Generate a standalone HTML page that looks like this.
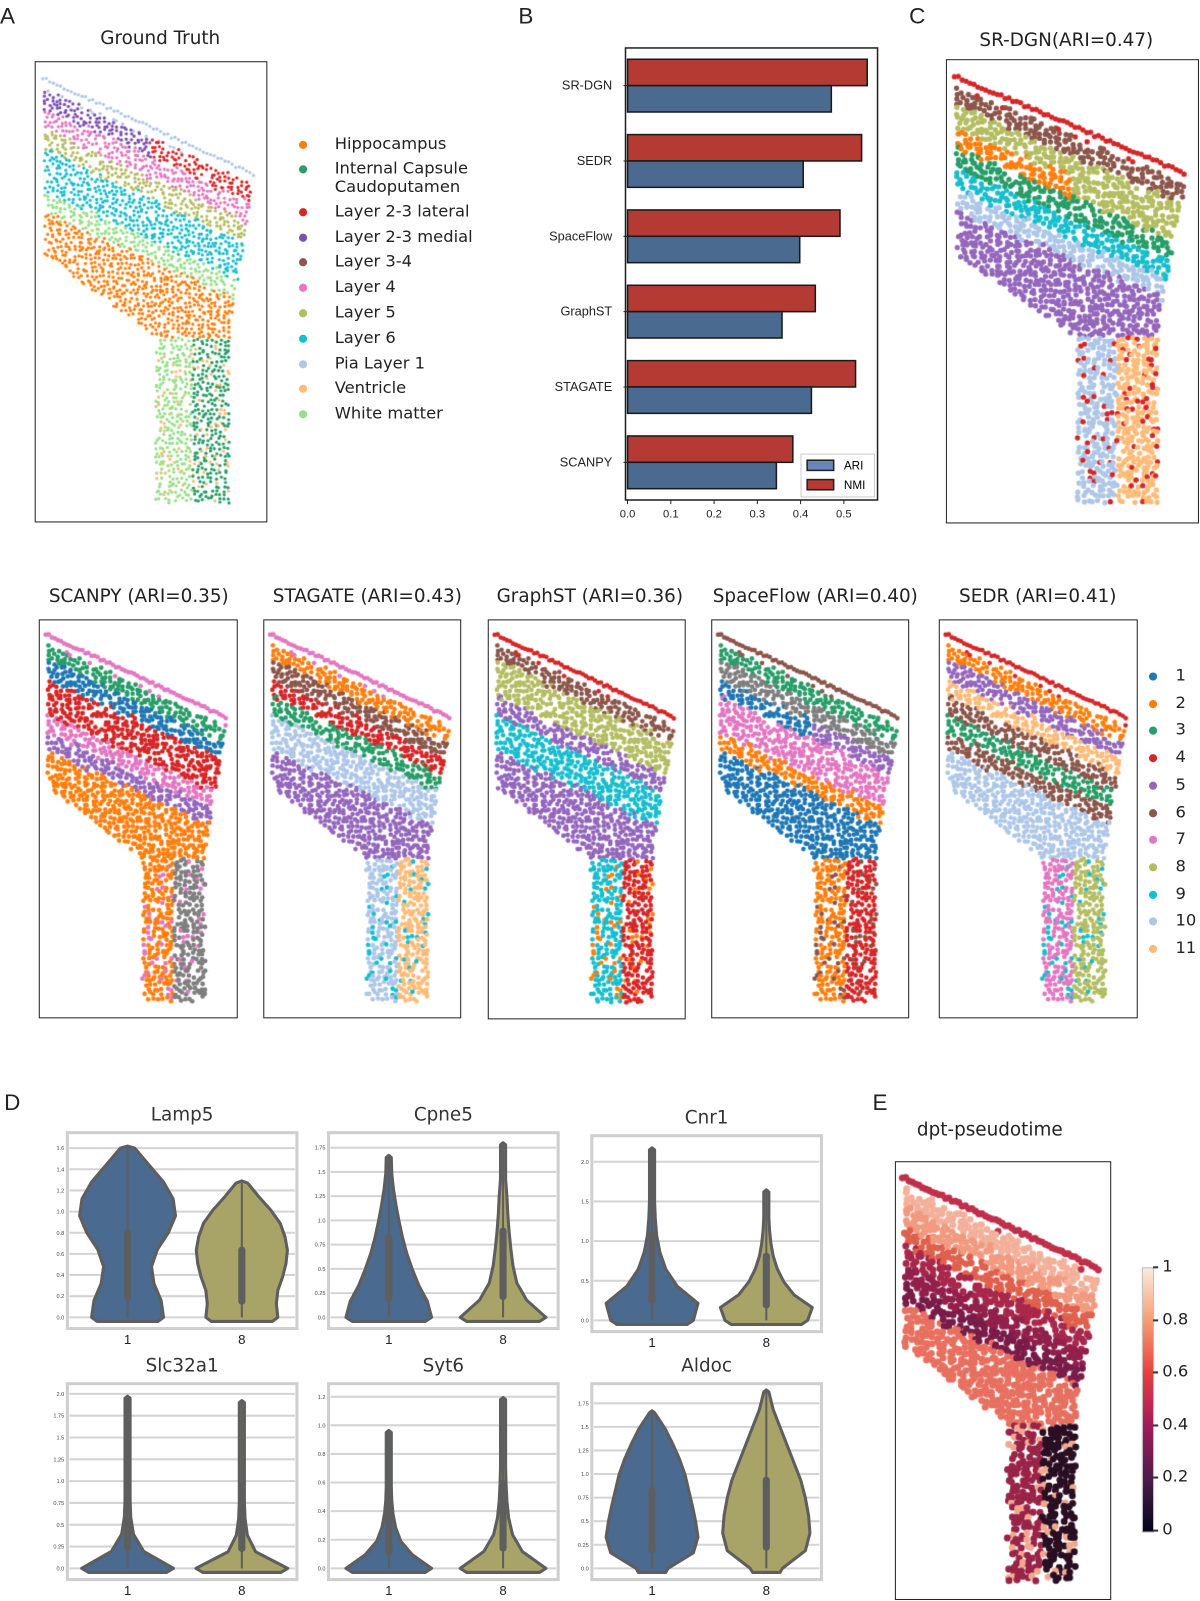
<!DOCTYPE html>
<html><head><meta charset="utf-8">
<style>
html,body{margin:0;padding:0;background:#fff;}
body{width:1200px;height:1601px;overflow:hidden;position:relative;font-family:"Liberation Sans","DejaVu Sans",sans-serif;color:#222;}
#stage{position:absolute;left:0;top:0;width:1176px;height:1569px;transform:scale(1.0204);transform-origin:0 0;}
.abs{position:absolute;}
.lbl{position:absolute;font-size:22px;}
.ttl{position:absolute;font-size:18px;text-align:center;white-space:nowrap;transform:translateX(-50%);font-family:"DejaVu Sans",sans-serif;}
.box{position:absolute;border:1.5px solid #222;box-sizing:border-box;}
.box canvas{position:absolute;left:0;top:0;}
.leg{position:absolute;font-size:16px;font-family:"DejaVu Sans",sans-serif;line-height:18px;}
.dot{position:absolute;width:8px;height:8px;border-radius:50%;}
</style></head>
<body>
<div id="stage">
<div class="lbl" style="left:0;top:3px">A</div>
<div class="lbl" style="left:508px;top:3px">B</div>
<div class="lbl" style="left:891px;top:3px">C</div>
<div class="lbl" style="left:4px;top:1068px">D</div>
<div class="lbl" style="left:855px;top:1068px">E</div>

<div class="ttl" style="left:157px;top:27px">Ground Truth</div>
<div class="box" id="pA" style="left:34px;top:60px;width:228px;height:452px"></div>
<div id="legA"></div>

<svg class="abs" id="barB" style="left:500px;top:40px" width="370" height="480"></svg>

<div class="ttl" style="left:1045px;top:29px">SR-DGN(ARI=0.47)</div>
<div class="box" id="pC" style="left:927px;top:58px;width:248px;height:455px"></div>

<div class="ttl" style="left:136px;top:574px">SCANPY (ARI=0.35)</div>
<div class="ttl" style="left:360px;top:574px">STAGATE (ARI=0.43)</div>
<div class="ttl" style="left:578px;top:574px">GraphST (ARI=0.36)</div>
<div class="ttl" style="left:799px;top:574px">SpaceFlow (ARI=0.40)</div>
<div class="ttl" style="left:1017px;top:574px">SEDR (ARI=0.41)</div>
<div class="box" id="p1" style="left:38px;top:607px;width:195px;height:391px"></div>
<div class="box" id="p2" style="left:258px;top:607px;width:194px;height:391px"></div>
<div class="box" id="p3" style="left:478px;top:607px;width:194px;height:392px"></div>
<div class="box" id="p4" style="left:697px;top:607px;width:194px;height:391px"></div>
<div class="box" id="p5" style="left:920px;top:607px;width:195px;height:391px"></div>
<div id="legK"></div>

<svg class="abs" id="vio" style="left:0;top:1070px" width="840" height="499"></svg>

<div class="ttl" style="left:970px;top:1097px">dpt-pseudotime</div>
<div class="box" id="pE" style="left:877px;top:1138px;width:212px;height:430px"></div>
<div class="abs" style="left:1119px;top:1242px;width:10px;height:258px;border:1px solid #bbb;background:linear-gradient(to top,#03051a,#4c1d4b 20%,#a11a5b 40%,#e83f3f 60%,#f69c73 80%,#faebdd)"></div>
<div id="cbt"></div>
</div>

<script>
// ---------- Bar chart data ----------
const methods=['SR-DGN','SEDR','SpaceFlow','GraphST','STAGATE','SCANPY'];
const nmi=[0.554,0.541,0.491,0.434,0.527,0.382];
const ari=[0.471,0.406,0.398,0.357,0.425,0.344];
const xticks=[0,0.1,0.2,0.3,0.4,0.5];

// ---------- Violin data ----------
const genes=['Lamp5','Cpne5','Cnr1','Slc32a1','Syt6','Aldoc'];
const groups=['1','8'];
const axisMax=[1.65,1.8,2.2,2.0,1.22,1.85];
const yTicks=[[0,0.2,0.4,0.6,0.8,1.0,1.2,1.4,1.6],[0,0.25,0.5,0.75,1.0,1.25,1.5,1.75],[0,0.5,1.0,1.5,2.0],[0,0.25,0.5,0.75,1.0,1.25,1.5,1.75,2.0],[0,0.2,0.4,0.6,0.8,1.0,1.2],[0,0.25,0.5,0.75,1.0,1.25,1.5,1.75]];
const topG1=[1.6,1.65,2.15,1.95,0.95,1.65];
const topG8=[1.27,1.78,1.62,1.9,1.18,1.87];
const densG1=[[0.75,0.7,0.55,0.5,0.62,0.85,1.0,0.95,0.75,0.45,0.15],[1,0.9,0.7,0.55,0.42,0.32,0.24,0.17,0.11,0.07,0.03],[0.9,1,0.55,0.3,0.17,0.1,0.07,0.05,0.04,0.03,0.02],[1,0.35,0.13,0.07,0.05,0.04,0.03,0.03,0.02,0.02,0.02],[1,0.55,0.28,0.16,0.1,0.07,0.05,0.04,0.03,0.02,0.02],[0.35,0.9,1,0.95,0.88,0.8,0.72,0.6,0.45,0.28,0.05]];
const densG8=[[0.75,0.72,0.75,0.85,0.92,0.95,0.9,0.8,0.6,0.35,0.12],[1,0.55,0.32,0.23,0.18,0.14,0.11,0.09,0.06,0.04,0.02],[0.9,1,0.6,0.38,0.24,0.15,0.1,0.07,0.05,0.04,0.02],[1,0.3,0.12,0.07,0.05,0.04,0.03,0.03,0.02,0.02,0.02],[1,0.45,0.22,0.13,0.09,0.07,0.05,0.04,0.03,0.03,0.02],[0.35,0.85,0.95,0.92,0.85,0.75,0.6,0.45,0.3,0.15,0.04]];
const maxHalf=[47,42,45,45,42,45];

// ---------- Legend text ----------
const gtLabels=['Hippocampus','Internal Capsule\nCaudoputamen','Layer 2-3 lateral','Layer 2-3 medial','Layer 3-4','Layer 4','Layer 5','Layer 6','Pia Layer 1','Ventricle','White matter'];
const gtColors=['#ff7f0e','#279e68','#d62728','#7c4fb0','#8c564b','#e377c2','#b5bd61','#17becf','#aec7e8','#ffbb78','#98df8a'];
const clColors=['#1f77b4','#ff7f0e','#279e68','#d62728','#9467bd','#8c564b','#e377c2','#b5bd61','#17becf','#aec7e8','#ffbb78'];
const cbTicks=[0,0.2,0.4,0.6,0.8,1];

const NS='http://www.w3.org/2000/svg';
function sv(parent,tag,attrs){const e=document.createElementNS(NS,tag);for(const k in attrs)e.setAttribute(k,attrs[k]);parent.appendChild(e);return e;}

// Bar chart
(function(){
  const svg=document.getElementById('barB');
  const x0=115, pxPerUnit=424, top=7, bottom=450, right=360;
  const xs=v=>x0+v*pxPerUnit;
  const band=(bottom-top)/methods.length;
  const bh=band*0.35;
  methods.forEach((m,i)=>{
    const cy=top+band*(i+0.5);
    const r1=sv(svg,'rect',{x:xs(0),y:cy-bh,width:xs(nmi[i])-xs(0),height:bh,fill:'#b53a33',stroke:'#1a1a1a','stroke-width':1.5});
    
    
    const r2=sv(svg,'rect',{x:xs(0),y:cy,width:xs(ari[i])-xs(0),height:bh,fill:'#4a6a8f',stroke:'#1a1a1a','stroke-width':1.5});
    
    
    const t=sv(svg,'text',{x:xs(0)-15,y:cy+4,'text-anchor':'end','font-size':12.5,fill:'#222'});t.textContent=m;
    
    
    sv(svg,'line',{x1:xs(0)-4,x2:xs(0),y1:cy,y2:cy,stroke:'#222'});
  });
  sv(svg,'rect',{x:x0-2,y:top,width:right-x0+2,height:bottom-top,fill:'none',stroke:'#222','stroke-width':1.5});
  xticks.forEach(v=>{
    sv(svg,'line',{x1:xs(v),x2:xs(v),y1:bottom,y2:bottom+4,stroke:'#222'});
    const t=sv(svg,'text',{x:xs(v),y:bottom+17,'text-anchor':'middle','font-size':11,fill:'#222'});t.textContent=v.toFixed(1);
    
    
  });
  const lg=sv(svg,'g',{});
  
  
  sv(lg,'rect',{x:285,y:405,width:72,height:42,fill:'#fff',stroke:'#ccc'});
  sv(lg,'rect',{x:291,y:411,width:26,height:10,fill:'#6a86b8',stroke:'#222','stroke-width':1.5});
  sv(lg,'rect',{x:291,y:430,width:26,height:10,fill:'#b53a33',stroke:'#222','stroke-width':1.5});
  let t=sv(lg,'text',{x:327,y:420,'font-size':11.5});t.textContent='ARI';
  t=sv(lg,'text',{x:327,y:439,'font-size':11.5});t.textContent='NMI';
})();

// Legends
(function(){
  const L=document.getElementById('legA');
  const ys=[142,166,208,233,257,282,307,332,357,381,406];
  gtLabels.forEach((s,i)=>{
    const d=document.createElement('div');d.className='dot';d.style.left='293px';d.style.top=(ys[i]-4)+'px';d.style.background=gtColors[i];
    L.appendChild(d);
    const t=document.createElement('div');t.className='leg';t.style.left='328px';t.style.top=(ys[i]-10)+'px';t.innerHTML=s.replace('\n','<br>');
    
    
    L.appendChild(t);
  });
  const K=document.getElementById('legK');
  clColors.forEach((c,i)=>{
    const y=663+i*26.7;
    const d=document.createElement('div');d.className='dot';d.style.left='1126px';d.style.top=(y-4)+'px';d.style.background=c;K.appendChild(d);
    const t=document.createElement('div');t.className='leg';t.style.left='1152px';t.style.top=(y-10)+'px';t.textContent=String(i+1);
    
    
    K.appendChild(t);
  });
  const C=document.getElementById('cbt');
  cbTicks.forEach(v=>{
    const y=1500-v*258;
    const l=document.createElement('div');l.className='abs';l.style.cssText=`left:1130px;top:${y-1}px;width:5px;height:2px;background:#333`;C.appendChild(l);
    const t=document.createElement('div');t.className='leg';t.style.left='1139px';t.style.top=(y-10)+'px';t.textContent=String(v);
    
    
    C.appendChild(t);
  });
})();

// Tissue scatter (decorative spatial texture)
const poly=[[0.035,0.055],[0.95,0.265],[0.91,0.375],[0.84,0.58],[0.84,0.96],[0.52,0.96],[0.52,0.6],[0.04,0.42]];
function inPoly(x,y){let c=false;for(let i=0,j=poly.length-1;i<poly.length;j=i++){const[xi,yi]=poly[i],[xj,yj]=poly[j];if(((yi>y)!=(yj>y))&&(x<(xj-xi)*(y-yi)/(yj-yi)+xi))c=!c;}return c;}
function hsh(i,j){const s=Math.sin(i*127.1+j*311.7)*43758.5453;return s-Math.floor(s);}
function drawTissue(id,bands,col,r,step){
  const box=document.getElementById(id);const W=box.clientWidth,H=box.clientHeight;
  const cv=document.createElement('canvas');cv.width=W;cv.height=H;box.appendChild(cv);
  const g=cv.getContext('2d');
  const dot=(px,py,c)=>{g.fillStyle=c;g.beginPath();g.arc(px,py,r,0,Math.PI*2);g.fill();};
  // separate pia line on top
  for(let i=0;i<60;i++){const x=0.03+i*0.0155;const y=0.035+(x-0.035)*0.23+(hsh(i,1)-0.5)*0.006;dot(x*W,y*H,bands[0]);}
  for(let j=0;j*step<H;j++)for(let i=0;i*step<W;i++){
    const px=i*step+(hsh(i,j)-0.5)*step*0.8, py=j*step+(hsh(j,i+7)-0.5)*step*0.8;
    const x=px/W,y=py/H;
    if(!inPoly(x,y))continue;
    if(hsh(i+3,j+5)<0.1)continue;
    const d=y-(0.055+(x-0.035)*0.23);
    let c;
    if(y>0.6&&x>0.5){c=col[x<0.68?0:1];if(hsh(i+9,j)<0.15)c=col[2]||c;}
    else{let b=Math.min(bands.length-1,1+Math.floor((d+(hsh(i,j+2)-0.5)*0.015)/0.045));c=bands[b];if(Array.isArray(c))c=c[x<0.5?0:1];}
    dot(px,py,c);
  }
}
drawTissue('pA',['#aec7e8',['#7c4fb0','#d62728'],'#e377c2','#b5bd61','#17becf','#17becf','#98df8a','#ff7f0e'],['#98df8a','#279e68','#ffbb78'],1.6,4.2);
drawTissue('pC',['#d62728','#8c564b','#b5bd61',['#ff7f0e','#b5bd61'],'#279e68','#17becf','#aec7e8','#9467bd'],['#aec7e8','#ffbb78','#d62728'],2.6,4.8);
drawTissue('p1',['#e377c2','#279e68','#1f77b4','#d62728','#d62728','#e377c2','#9467bd','#ff7f0e'],['#ff7f0e','#7f7f7f','#e377c2'],2.3,4.3);
drawTissue('p2',['#e377c2','#ff7f0e','#8c564b','#d62728','#279e68','#aec7e8','#aec7e8','#9467bd'],['#aec7e8','#ffbb78','#17becf'],2.3,4.3);
drawTissue('p3',['#d62728','#8c564b','#b5bd61','#b5bd61','#9467bd','#17becf','#17becf','#9467bd'],['#17becf','#d62728','#ff7f0e'],2.3,4.3);
drawTissue('p4',['#8c564b','#279e68','#7f7f7f',['#1f77b4','#9467bd'],'#e377c2','#e377c2','#ff7f0e','#1f77b4'],['#ff7f0e','#d62728','#8c564b'],2.3,4.3);
drawTissue('p5',['#d62728','#ff7f0e','#9467bd','#ffbb78','#8c564b','#279e68','#8c564b','#aec7e8'],['#e377c2','#b5bd61','#17becf'],2.3,4.3);
drawTissue('pE',['#c0304a','#f4b09a','#f29a80','#e0604e','#a8284c','#92204a','#7a1c48','#e87060'],['#9a2448','#2a0f22','#f2a88c'],3.4,5.2);

// Violins
(function(){
  const svg=document.getElementById('vio');
  const boxes=[[66,40],[322,40],[580,43],[66,286],[322,286],[580,286]];
  genes.forEach((gname,k)=>{
    const [bx,by]=boxes[k];const bw=225,bh=192;
    const gg=sv(svg,'g',{});
    
    
    sv(gg,'rect',{x:bx,y:by,width:bw,height:bh,fill:'#fff',stroke:'#cfcfcf','stroke-width':3});
    const y0=by+bh-11, y1=by+10;
    const ys=v=>y0-(v/axisMax[k])*(y0-y1);
    yTicks[k].forEach(v=>{
      sv(gg,'line',{x1:bx+2,x2:bx+bw-2,y1:ys(v),y2:ys(v),stroke:'#d4d4d4','stroke-width':2});
      const t=sv(gg,'text',{x:bx-3,y:ys(v)+2,'text-anchor':'end','font-size':5.5,fill:'#444'});t.textContent=v.toFixed(2).replace(/0$/,'').replace(/\.$/,'.0');
    });
    const tt=sv(gg,'text',{x:bx+bw/2,y:by-12,'text-anchor':'middle','font-size':18,fill:'#333','font-family':'DejaVu Sans'});tt.textContent=gname;
    [[topG1,densG1,'#4a6a90',59],[topG8,densG8,'#a8a468',171]].forEach(([tops,dens,fill,cx],gi)=>{
      const tp=tops[k],dd=dens[k],n=dd.length,mh=maxHalf[k];
      let L=[],R=[];
      for(let i=0;i<n;i++){const v=tp*i/(n-1);const w=Math.max(2.5,dd[i]*mh);L.push([bx+cx-w,ys(v)]);R.push([bx+cx+w,ys(v)]);}
      const wb=dd[0]*mh*0.85;
      let dstr='M'+(bx+cx-wb)+','+(y0+4)+' L'+L.map(p=>p.join(',')).join(' L')+' L'+(bx+cx)+','+(ys(tp)-2)+' L'+R.slice().reverse().map(p=>p.join(',')).join(' L')+' L'+(bx+cx+wb)+','+(y0+4)+'Z';
      const p=sv(gg,'path',{d:dstr,fill:fill,stroke:'#5e5e5e','stroke-width':3,'stroke-linejoin':'round'});
      
      
      sv(gg,'line',{x1:bx+cx,x2:bx+cx,y1:y0,y2:ys(tp),stroke:'#5e5e5e','stroke-width':2});
      sv(gg,'line',{x1:bx+cx,x2:bx+cx,y1:ys(tp*0.12),y2:ys(tp*0.5),stroke:'#5e5e5e','stroke-width':7,'stroke-linecap':'round'});
      const xl=sv(gg,'text',{x:bx+cx,y:by+bh+15,'text-anchor':'middle','font-size':13,fill:'#222'});xl.textContent=groups[gi];
    });
  });
})();
</script>
</body></html>
